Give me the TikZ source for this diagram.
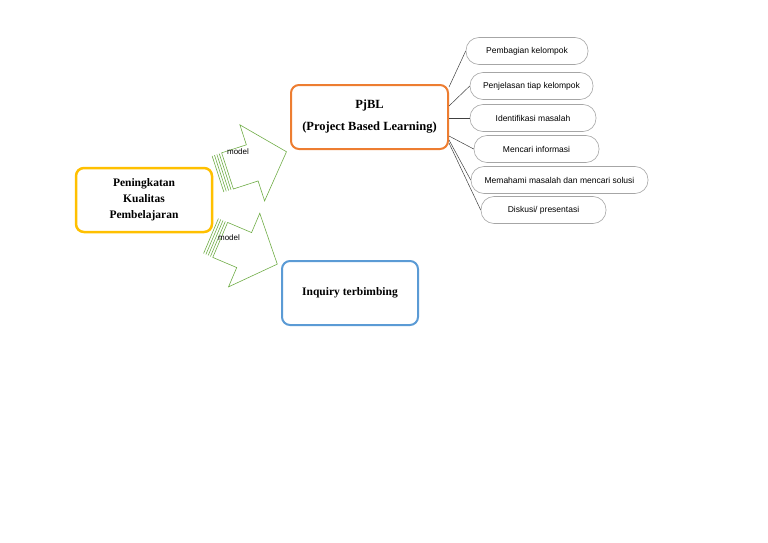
\documentclass[tikz,border=0pt]{standalone}
\usepackage{fontspec}
\setmainfont{Liberation Serif}
\setsansfont{Liberation Sans}
\usepackage{tikz}

\definecolor{kuning}{HTML}{FFC000}
\definecolor{oranye}{HTML}{ED7D31}
\definecolor{biru}{HTML}{5B9BD5}
\definecolor{hijau}{HTML}{70AD47}
\definecolor{abu}{HTML}{A6A6A6}

\tikzset{
	kotak/.style={draw, line width=2pt, rounded corners=8pt, align=center,
		font=\fontsize{11.5}{16}\selectfont\bfseries, inner sep=0pt},
	langkah/.style={draw=abu, line width=.6pt, rounded corners=13pt, minimum height=27pt,
		inner sep=0pt, font=\sffamily\fontsize{8.5}{9}\selectfont},
	hubung/.style={draw=black!75, line width=.5pt},
	panah/.style={draw=hijau, line width=.6pt, fill=white},
	ket/.style={font=\sffamily\fontsize{8}{9}\selectfont, inner sep=0pt}
}

\begin{document}
\begin{tikzpicture}[x=1pt, y=-1pt]
	\useasboundingbox (0, 0) rectangle (768, 543);

	% kotak utama
	\node[kotak, draw=kuning, line width=2.5pt, minimum width=136pt, minimum height=64pt] (mutu) at (144, 200) {Peningkatan\\Kualitas\\Pembelajaran};
	\node[kotak, draw=oranye, minimum width=157pt, minimum height=64pt, font=\fontsize{12.5}{22}\selectfont\bfseries] (pjbl) at (369.5, 117) {PjBL\\(Project Based Learning)};
	\node[kotak, draw=biru, minimum width=136pt, minimum height=64pt] (inkuiri) at (350, 293) {Inquiry terbimbing};

	% langkah PjBL
	\node[langkah, minimum width=122pt] (s1) at (527, 51) {Pembagian kelompok};
	\node[langkah, minimum width=123pt] (s2) at (531.5, 86) {Penjelasan tiap kelompok};
	\node[langkah, minimum width=126pt] (s3) at (533, 118) {Identifikasi masalah};
	\node[langkah, minimum width=125pt] (s4) at (536.5, 149) {Mencari informasi};
	\node[langkah, minimum width=177pt] (s5) at (559.5, 180) {Memahami masalah dan mencari solusi};
	\node[langkah, minimum width=125pt] (s6) at (543.5, 210) {Diskusi/ presentasi};

	\draw[hubung] ([yshift=30pt]pjbl.east) -- (s1.west);
	\draw[hubung] ([yshift=11pt]pjbl.east) -- (s2.west);
	\draw[hubung] ([yshift=-1pt]pjbl.east) -- (s3.west);
	\draw[hubung] ([yshift=-19pt]pjbl.east) -- (s4.west);
	\draw[hubung] ([yshift=-23pt]pjbl.east) -- (s5.west);
	\draw[hubung] ([yshift=-26pt]pjbl.east) -- (s6.west);

	% panah bergaris
	\foreach \px/\py/\sudut in {218/174/18, 211/236/-23} {
		\begin{scope}[shift={(\px, \py)}, rotate=\sudut]
			\draw[panah] (10, -19) -- (36, -19) -- (36, -40) -- (72, 0) -- (36, 40) -- (36, 19) -- (10, 19) -- cycle;
			\foreach \g in {0, 2.5, 5, 7.5}
				\draw[hijau, line width=.6pt] (\g, -19) -- (\g, 19);
		\end{scope}
	}
	\node[ket] (m1) at (238, 152) {model};
	\node[ket] (m2) at (229, 238) {model};
\end{tikzpicture}
\end{document}
